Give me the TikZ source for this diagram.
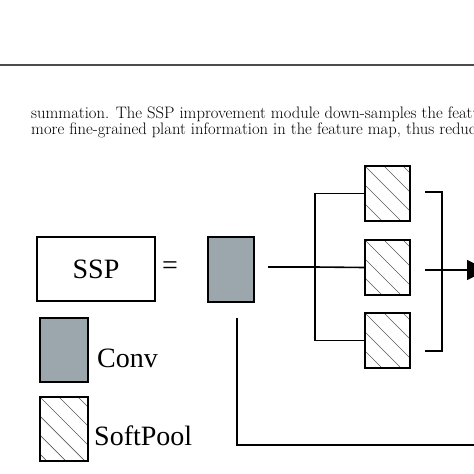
\documentclass[tikz,border=0pt]{standalone}
\usepackage{fontspec}
\usepackage{tikz}
\usetikzlibrary{calc}
\usetikzlibrary{arrows.meta}
\newfontfamily\diagfont{Liberation Serif}
\definecolor{convgrey}{RGB}{155,167,173}
\tikzset{%
    blk/.style={draw,line width=1.6pt,inner sep=0pt,minimum width=46pt,minimum height=64pt},
    convblk/.style={blk,fill=convgrey},
    poolblk/.style={blk,minimum width=45pt,minimum height=55pt,
        path picture={\foreach \k in {-6,...,4}
            \draw[gray!70!black,line width=0.7pt] ($(path picture bounding box.north west)+(\k*19pt,0pt)$) -- ++(80pt,-80pt);}},
    lbl/.style={inner sep=0pt,font=\diagfont\fontsize{28}{30}\selectfont},
    bodytxt/.style={anchor=base west,inner sep=0pt,align=left,font=\fontsize{16.6}{14}\selectfont},
    wire/.style={line width=1.6pt}
}

\begin{document}
\begin{tikzpicture}[x=1pt,y=-1pt]
        \useasboundingbox (0,0) rectangle (474,474);
        \clip (0,0) rectangle (474,474);

        \draw[gray!60!black,line width=1.3pt] (0,65) -- (474,65);
        % base anchor sits on the last line
        \node[bodytxt] (txt) at (31,134) {summation. The SSP improvement module down-samples the feature\\
            more fine-grained plant information in the feature map, thus reducing};

        \node[blk,lbl,minimum width=118pt] (ssp) at (96,269) {SSP};
        \node[lbl] (eq) at (170,268) {=};
        \node[convblk,minimum height=65pt] (conv) at (231,269.5){};

        \node[convblk,minimum width=48pt] (legconv) at (64,350){};
        \node[lbl,anchor=base west] (convtxt) at (97,367) {Conv};
        \node[poolblk,minimum width=48pt,minimum height=64pt] (legpool) at (64,429){};
        \node[lbl,anchor=base west] (pooltxt) at (94,445) {SoftPool};

        \node[poolblk] (p1) at (387.5,193.5){};
        \node[poolblk] (p2) at (387.5,267.5){};
        \node[poolblk] (p3) at (387.5,340.5){};

        \coordinate (split) at (315,267);
        \coordinate (bt) at (425,192);
        \coordinate (jt) at (442,192);
        \coordinate (jb) at (442,351);
        \coordinate (bb) at (425,351);
        \coordinate (as) at (425,270);
        \coordinate (out) at (487,270);
        \coordinate (fb) at (237,318);
        \coordinate (fbend) at (480,445);

        \draw[wire] ($(conv.east |- split)+(13pt,0pt)$) -- (split);
        \draw[wire] (p1.west) -| (split) |- (p3.west);
        \draw[wire] (split) -- (p2.west);

        \draw[wire] (bt) -- (jt) -- (jb) -- (bb);
        \draw[wire,-{Triangle[length=20pt,width=20pt]}] (as) -- (out);

        \draw[wire] (fb) |- (fbend);
    \end{tikzpicture}
\end{document}
